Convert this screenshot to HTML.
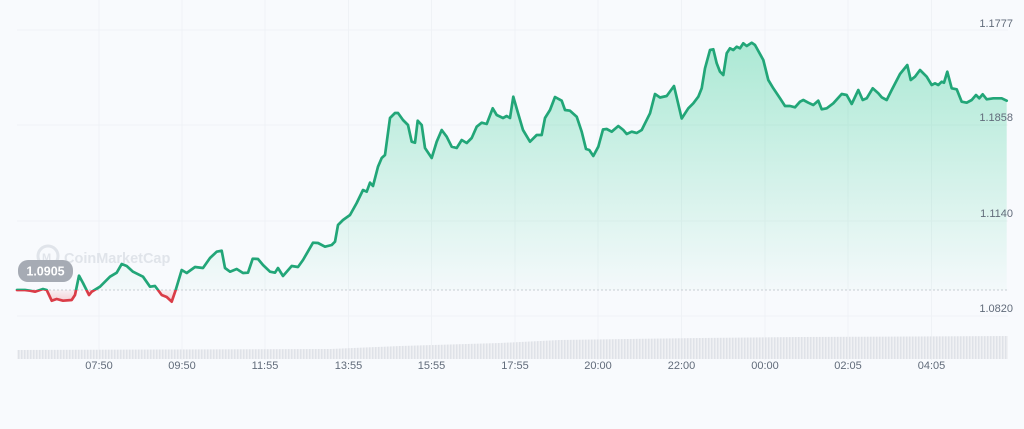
<!DOCTYPE html>
<html><head><meta charset="utf-8"><style>
html,body{margin:0;padding:0;background:#f8fafd;}
svg{display:block;}
text{font-family:"Liberation Sans",sans-serif;}
</style></head><body>
<svg width="1024" height="429" viewBox="0 0 1024 429" xmlns="http://www.w3.org/2000/svg">
<defs>
<linearGradient id="gg" gradientUnits="userSpaceOnUse" x1="0" y1="40" x2="0" y2="290">
<stop offset="0" stop-color="#16c784" stop-opacity="0.34"/>
<stop offset="1" stop-color="#16c784" stop-opacity="0.02"/>
</linearGradient>
<linearGradient id="rg" gradientUnits="userSpaceOnUse" x1="0" y1="290" x2="0" y2="303">
<stop offset="0" stop-color="#ea3943" stop-opacity="0.05"/>
<stop offset="1" stop-color="#ea3943" stop-opacity="0.25"/>
</linearGradient>
<clipPath id="above"><rect x="0" y="0" width="1024" height="290"/></clipPath>
<clipPath id="below"><rect x="0" y="290" width="1024" height="139"/></clipPath>
<pattern id="vol" patternUnits="userSpaceOnUse" width="3" height="10">
<rect width="3" height="10" fill="#f0f1f4"/>
<rect width="1.5" height="10" fill="#dfe2e8"/>
</pattern>
</defs>
<rect width="1024" height="429" fill="#f8fafd"/>
<!-- grid -->
<g stroke="#eff2f6" stroke-width="1">
<line x1="17" y1="30" x2="1008" y2="30"/>
<line x1="17" y1="125" x2="1008" y2="125"/>
<line x1="17" y1="221" x2="1008" y2="221"/>
<line x1="17" y1="316" x2="1008" y2="316"/>
<line x1="99" y1="0" x2="99" y2="360"/>
<line x1="182" y1="0" x2="182" y2="360"/>
<line x1="265" y1="0" x2="265" y2="360"/>
<line x1="348.5" y1="0" x2="348.5" y2="360"/>
<line x1="431.5" y1="0" x2="431.5" y2="360"/>
<line x1="515" y1="0" x2="515" y2="360"/>
<line x1="598" y1="0" x2="598" y2="360"/>
<line x1="681.5" y1="0" x2="681.5" y2="360"/>
<line x1="765" y1="0" x2="765" y2="360"/>
<line x1="848" y1="0" x2="848" y2="360"/>
<line x1="931.5" y1="0" x2="931.5" y2="360"/>
</g>
<!-- volume -->
<path d="M17,359 L17,350 L330,349 L400,346 L500,343 L560,340 L700,338 L800,337 L1008,336 L1008,359 Z" fill="url(#vol)"/>
<!-- watermark -->
<circle cx="48" cy="256" r="10" fill="none" stroke="#e0e4ea" stroke-width="3"/>
<text x="42" y="261" font-size="11" fill="#e0e4ea" font-weight="bold">M</text>
<text x="64" y="263" font-size="14.5" fill="#e0e4ea" font-weight="bold">CoinMarketCap</text>
<!-- baseline -->
<line x1="17" y1="290" x2="1008" y2="290" stroke="#c9cdd4" stroke-width="1" stroke-dasharray="2,2"/>
<!-- fills -->
<polygon clip-path="url(#above)" fill="url(#gg)" points="17,290 25,290 30,290.7 35,291.7 43,289 46.7,290 51.7,300.7 56.7,299 63,300.7 71.7,300 75,295 79,275.7 83,283 89,295 91.7,291.7 100,286.7 110,276.7 116.7,272.7 121.7,264 126.7,266 133,271.7 143,276.7 150,286.7 155,286 158,290 161.7,295 166.7,297 171.7,301.7 175.7,290 181.7,270 186.7,273 195,267 203,268 210,258 216.7,251.7 221.7,250.7 225,268 230,271.7 236.7,269 243,273 248,272.7 252.7,258.7 258,259 263,265 270,271.7 275,272.7 278,268 283,276 291.7,266 298,267 303,260 313,242.7 318,243 325,246.7 331.7,245 335,241.7 338,225 343,220 350,215 356.7,203 363,190 366.7,191.7 370,182.7 373,186 378,166.7 381.7,158 385,155 390,118 395,113 398,113 403,120 408,125 411.7,141.7 415,142.7 417.7,120.7 421.7,125 425,148 431.7,158 436.7,141.7 441.7,130 446.7,136.7 451.7,146.7 456.7,148 461.7,140 466.7,143 471.7,138 476.7,126.7 481.7,122.7 486.7,124 492.7,108.3 496.7,115 503,118 506.7,116 510,118 513.3,96.7 518,113 523,130 530,141.7 536.7,135 541.7,135 545,118 550,110 555,97 561.7,100.7 565,110 570,110.7 576.7,116.7 581.7,131.7 586,149 589.3,150 593.3,156 598.3,146.7 603,129.5 606.7,129 611.7,131.7 618.3,126 623.3,130 626.7,134 631.7,131.7 636.7,133 641.7,130 650,113.3 655,94 660,97.5 666.7,96 674,86 681.7,118.5 688.3,108.3 693.3,103.3 698.3,96.7 701.7,88.3 705,68.3 710,50 713.3,49.3 716.7,63.3 720,71.7 723.3,75 726.7,53.3 730,48.3 733.3,50 736.7,46.7 740,48.3 743.3,43.3 746.7,46 751.7,42.7 755,45 763.3,60 768.3,80 773.3,88.3 780,98.3 785,106 790,106 795,107.3 800,101.7 803.3,100 808.3,102.7 813.3,105 818.3,100.7 821.7,109.3 826.7,108.3 833.3,103.3 841.7,94 846.7,95 851.7,104 858.3,90 862.7,100 866.7,98.3 872.7,88.3 878.3,93.3 881.7,97.3 886.7,100 891.7,90 900,74 907.3,65 910.7,80 915,76.7 920,70 926.7,76.7 931.7,85 935,83.3 938.3,85 941.7,81.7 944,82.7 947.3,71.7 951.7,88.3 956.7,89.3 961.7,101.7 966.7,102.7 971.7,100 976,95 979.3,98.3 982.7,94.3 986.7,99.3 993.3,98.3 1001.7,98.3 1006.7,100.7 1006.7,290"/>
<polygon clip-path="url(#below)" fill="url(#rg)" points="17,290 25,290 30,290.7 35,291.7 43,289 46.7,290 51.7,300.7 56.7,299 63,300.7 71.7,300 75,295 79,275.7 83,283 89,295 91.7,291.7 100,286.7 150,286.7 155,286 158,290 161.7,295 166.7,297 171.7,301.7 175.7,290 181.7,270"/>
<!-- lines -->
<polyline clip-path="url(#above)" fill="none" stroke="#22a678" stroke-width="2.7" stroke-linejoin="round" stroke-linecap="round" points="17,290 25,290 30,290.7 35,291.7 43,289 46.7,290 51.7,300.7 56.7,299 63,300.7 71.7,300 75,295 79,275.7 83,283 89,295 91.7,291.7 100,286.7 110,276.7 116.7,272.7 121.7,264 126.7,266 133,271.7 143,276.7 150,286.7 155,286 158,290 161.7,295 166.7,297 171.7,301.7 175.7,290 181.7,270 186.7,273 195,267 203,268 210,258 216.7,251.7 221.7,250.7 225,268 230,271.7 236.7,269 243,273 248,272.7 252.7,258.7 258,259 263,265 270,271.7 275,272.7 278,268 283,276 291.7,266 298,267 303,260 313,242.7 318,243 325,246.7 331.7,245 335,241.7 338,225 343,220 350,215 356.7,203 363,190 366.7,191.7 370,182.7 373,186 378,166.7 381.7,158 385,155 390,118 395,113 398,113 403,120 408,125 411.7,141.7 415,142.7 417.7,120.7 421.7,125 425,148 431.7,158 436.7,141.7 441.7,130 446.7,136.7 451.7,146.7 456.7,148 461.7,140 466.7,143 471.7,138 476.7,126.7 481.7,122.7 486.7,124 492.7,108.3 496.7,115 503,118 506.7,116 510,118 513.3,96.7 518,113 523,130 530,141.7 536.7,135 541.7,135 545,118 550,110 555,97 561.7,100.7 565,110 570,110.7 576.7,116.7 581.7,131.7 586,149 589.3,150 593.3,156 598.3,146.7 603,129.5 606.7,129 611.7,131.7 618.3,126 623.3,130 626.7,134 631.7,131.7 636.7,133 641.7,130 650,113.3 655,94 660,97.5 666.7,96 674,86 681.7,118.5 688.3,108.3 693.3,103.3 698.3,96.7 701.7,88.3 705,68.3 710,50 713.3,49.3 716.7,63.3 720,71.7 723.3,75 726.7,53.3 730,48.3 733.3,50 736.7,46.7 740,48.3 743.3,43.3 746.7,46 751.7,42.7 755,45 763.3,60 768.3,80 773.3,88.3 780,98.3 785,106 790,106 795,107.3 800,101.7 803.3,100 808.3,102.7 813.3,105 818.3,100.7 821.7,109.3 826.7,108.3 833.3,103.3 841.7,94 846.7,95 851.7,104 858.3,90 862.7,100 866.7,98.3 872.7,88.3 878.3,93.3 881.7,97.3 886.7,100 891.7,90 900,74 907.3,65 910.7,80 915,76.7 920,70 926.7,76.7 931.7,85 935,83.3 938.3,85 941.7,81.7 944,82.7 947.3,71.7 951.7,88.3 956.7,89.3 961.7,101.7 966.7,102.7 971.7,100 976,95 979.3,98.3 982.7,94.3 986.7,99.3 993.3,98.3 1001.7,98.3 1006.7,100.7"/>
<polyline clip-path="url(#below)" fill="none" stroke="#da3c47" stroke-width="2.7" stroke-linejoin="round" stroke-linecap="round" points="17,290 25,290 30,290.7 35,291.7 43,289 46.7,290 51.7,300.7 56.7,299 63,300.7 71.7,300 75,295 79,275.7 83,283 89,295 91.7,291.7 100,286.7 150,286.7 155,286 158,290 161.7,295 166.7,297 171.7,301.7 175.7,290 181.7,270"/>
<!-- badge -->
<rect x="18" y="260" width="55" height="22" rx="10" fill="#a6abb4"/>
<text x="45.5" y="275.5" font-size="12.5" fill="#ffffff" text-anchor="middle" font-weight="bold">1.0905</text>
<!-- y labels -->
<g font-size="11" fill="#616b7a" text-anchor="end">
<text x="1013" y="27">1.1777</text>
<text x="1013" y="121">1.1858</text>
<text x="1013" y="217">1.1140</text>
<text x="1013" y="312">1.0820</text>
</g>
<!-- x labels -->
<g font-size="11" fill="#616b7a" text-anchor="middle">
<text x="99" y="369">07:50</text>
<text x="182" y="369">09:50</text>
<text x="265" y="369">11:55</text>
<text x="348.5" y="369">13:55</text>
<text x="431.5" y="369">15:55</text>
<text x="515" y="369">17:55</text>
<text x="598" y="369">20:00</text>
<text x="681.5" y="369">22:00</text>
<text x="765" y="369">00:00</text>
<text x="848" y="369">02:05</text>
<text x="931.5" y="369">04:05</text>
</g>
</svg>
</body></html>
